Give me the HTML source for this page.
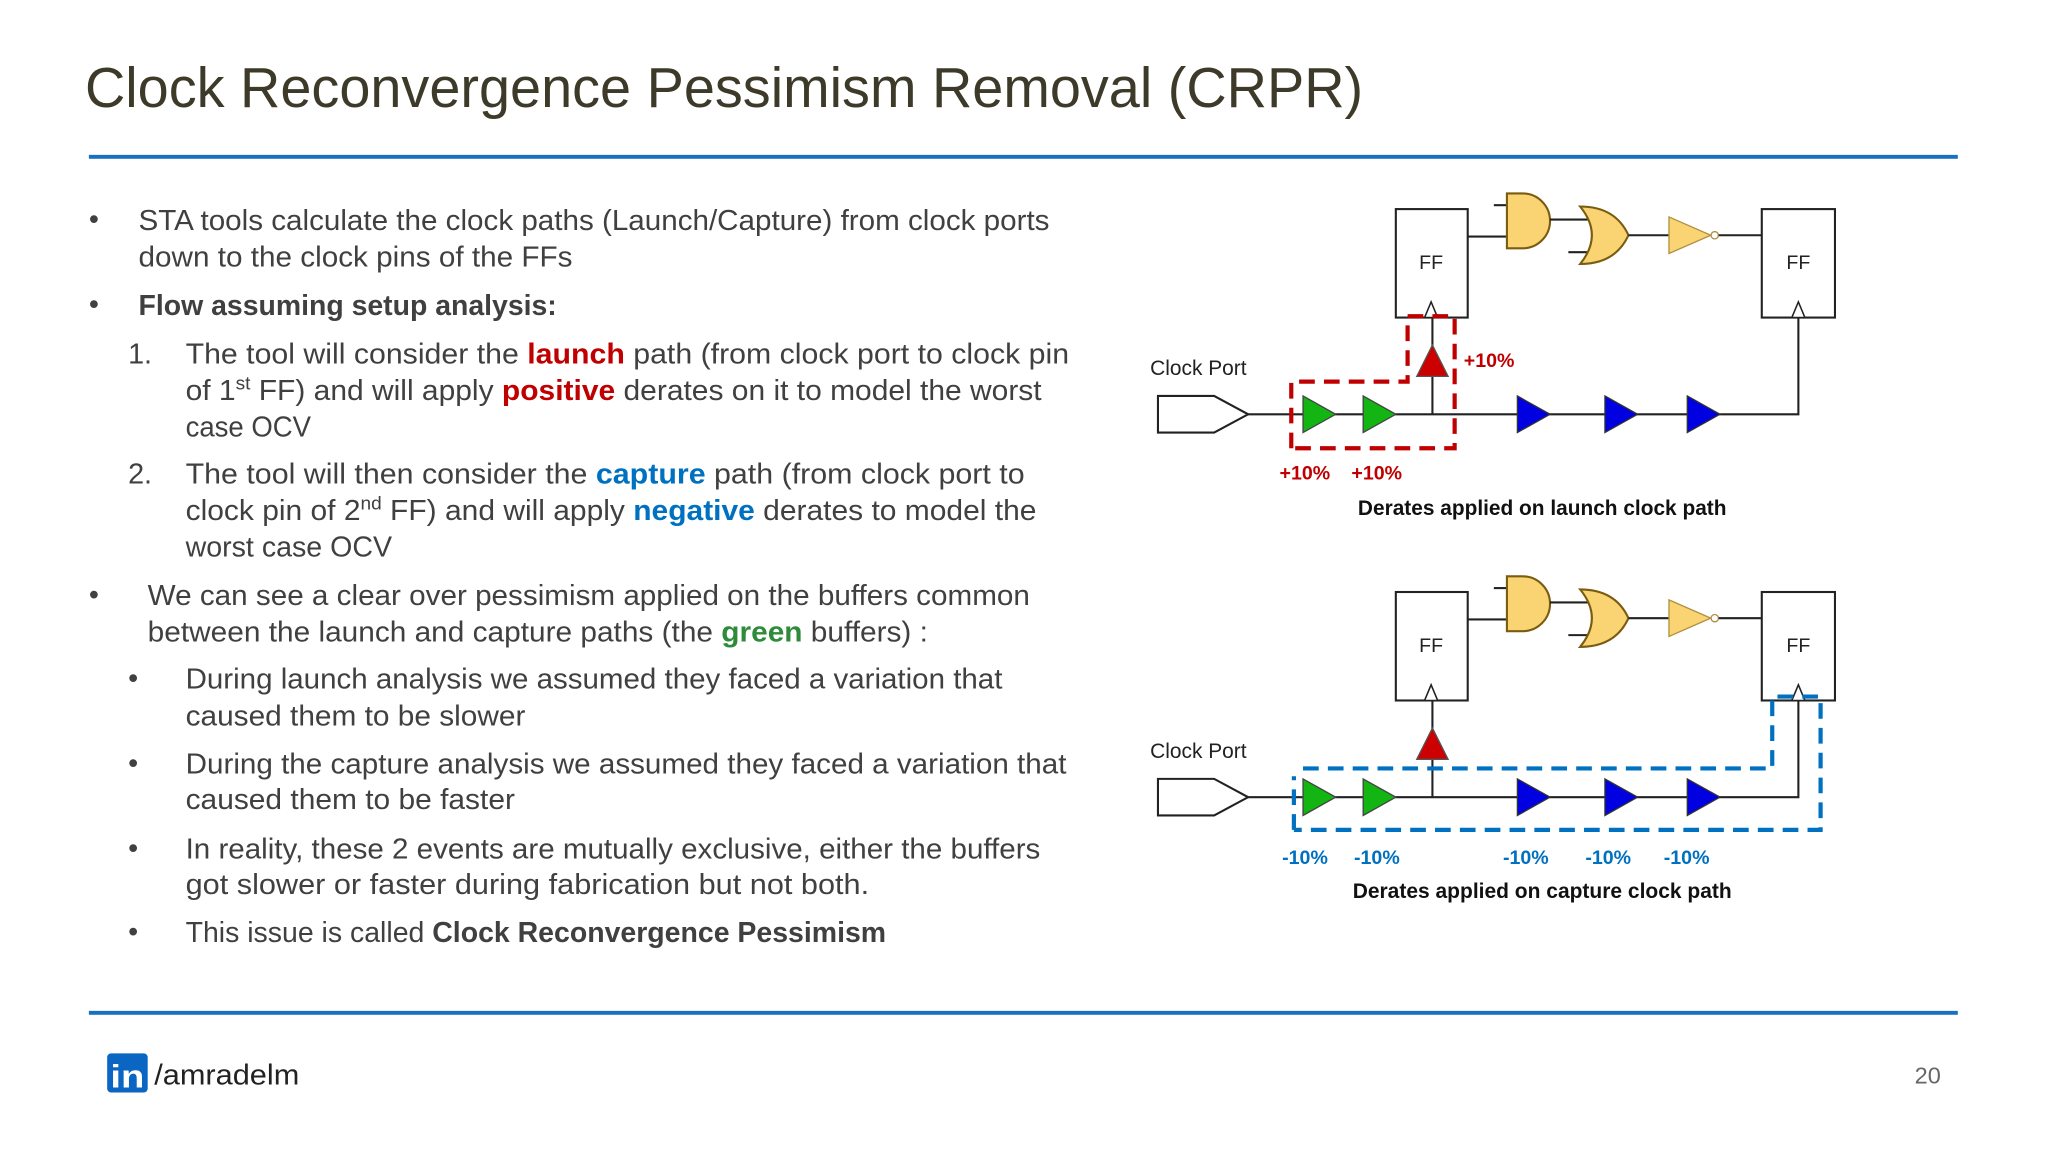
<!DOCTYPE html>
<html><head><meta charset="utf-8"><style>html,body{margin:0;padding:0;background:#fff;}svg{display:block}</style></head>
<body>
<svg width="2048" height="1152" viewBox="0 0 1567 881.5" preserveAspectRatio="none" xmlns="http://www.w3.org/2000/svg" font-family="Liberation Sans, sans-serif">
<rect width="1567" height="882" fill="#fff"/>
<text x="65" y="82" font-size="43" fill="#3d3a2a" textLength="978" lengthAdjust="spacingAndGlyphs">Clock Reconvergence Pessimism Removal (CRPR)</text>
<rect x="68" y="118.5" width="1430" height="3" fill="#1a6fc0"/>
<rect x="68" y="773.5" width="1430" height="3" fill="#1a6fc0"/>

<g font-size="22" fill="#404040">
<text x="68" y="175">•</text>
<text x="106" y="176" textLength="697" lengthAdjust="spacingAndGlyphs">STA tools calculate the clock paths (Launch/Capture) from clock ports</text>
<text x="106" y="204" textLength="332" lengthAdjust="spacingAndGlyphs">down to the clock pins of the FFs</text>
<text x="68" y="240">•</text>
<text x="106" y="241" font-weight="bold" textLength="320" lengthAdjust="spacingAndGlyphs">Flow assuming setup analysis:</text>
<text x="98" y="278">1.</text>
<text x="142" y="278" textLength="676" lengthAdjust="spacingAndGlyphs">The tool will consider the <tspan fill="#c00000" font-weight="bold">launch</tspan> path (from clock port to clock pin</text>
<text x="142" y="306" textLength="655" lengthAdjust="spacingAndGlyphs">of 1<tspan font-size="14" dy="-8">st</tspan><tspan dy="8"> FF) and will apply </tspan><tspan fill="#c00000" font-weight="bold">positive</tspan> derates on it to model the worst</text>
<text x="142" y="334" textLength="96" lengthAdjust="spacingAndGlyphs">case OCV</text>
<text x="98" y="370">2.</text>
<text x="142" y="370" textLength="642" lengthAdjust="spacingAndGlyphs">The tool will then consider the <tspan fill="#0070c0" font-weight="bold">capture</tspan> path (from clock port to</text>
<text x="142" y="398" textLength="651" lengthAdjust="spacingAndGlyphs">clock pin of 2<tspan font-size="14" dy="-8">nd</tspan><tspan dy="8"> FF) and will apply </tspan><tspan fill="#0070c0" font-weight="bold">negative</tspan> derates to model the</text>
<text x="142" y="426" textLength="158" lengthAdjust="spacingAndGlyphs">worst case OCV</text>
<text x="68" y="462">•</text>
<text x="113" y="463" textLength="675" lengthAdjust="spacingAndGlyphs">We can see a clear over pessimism applied on the buffers common</text>
<text x="113" y="491" textLength="597" lengthAdjust="spacingAndGlyphs">between the launch and capture paths (the <tspan fill="#2e8b3a" font-weight="bold">green</tspan> buffers) :</text>
<text x="98" y="526">•</text>
<text x="142" y="527" textLength="625" lengthAdjust="spacingAndGlyphs">During launch analysis we assumed they faced a variation that</text>
<text x="142" y="555" textLength="260" lengthAdjust="spacingAndGlyphs">caused them to be slower</text>
<text x="98" y="591">•</text>
<text x="142" y="592" textLength="674" lengthAdjust="spacingAndGlyphs">During the capture analysis we assumed they faced a variation that</text>
<text x="142" y="619" textLength="252" lengthAdjust="spacingAndGlyphs">caused them to be faster</text>
<text x="98" y="656">•</text>
<text x="142" y="657" textLength="654" lengthAdjust="spacingAndGlyphs">In reality, these 2 events are mutually exclusive, either the buffers</text>
<text x="142" y="684" textLength="523" lengthAdjust="spacingAndGlyphs">got slower or faster during fabrication but not both.</text>
<text x="98" y="720">•</text>
<text x="142" y="721" textLength="536" lengthAdjust="spacingAndGlyphs">This issue is called <tspan font-weight="bold">Clock Reconvergence Pessimism</tspan></text>
</g>

<rect x="82" y="806" width="31" height="30" rx="3" fill="#0a66c2"/>
<text x="84.5" y="832" font-size="25" font-weight="bold" fill="#fff" textLength="26" lengthAdjust="spacingAndGlyphs">in</text>
<text x="118" y="830" font-size="22" fill="#222" textLength="111" lengthAdjust="spacingAndGlyphs">/amradelm</text>
<text x="1465" y="829" font-size="18" fill="#666">20</text>

<defs>
<g id="dia" stroke="#222" stroke-width="1.6">
  <rect x="1068" y="160" width="55" height="83" fill="#fff"/>
  <rect x="1348" y="160" width="56" height="83" fill="#fff"/>
  <polygon points="1090,243 1095,231 1100,243" fill="#fff" stroke-width="1.2"/>
  <polygon points="1371,243 1376,231 1381,243" fill="#fff" stroke-width="1.2"/>
  <text x="1095" y="206" font-size="15" text-anchor="middle" fill="#222" stroke="none">FF</text>
  <text x="1376" y="206" font-size="15" text-anchor="middle" fill="#222" stroke="none">FF</text>
  <line x1="1123" y1="181" x2="1153" y2="181"/>
  <line x1="1143" y1="157" x2="1153" y2="157"/>
  <path d="M1153,148 H1165 A21,21 0 0 1 1165,190 H1153 Z" fill="#fad472" stroke="#7a5c10"/>
  <line x1="1186" y1="168" x2="1216" y2="168"/>
  <line x1="1200" y1="193" x2="1216" y2="193"/>
  <path d="M1209,158 Q1227,180 1209,202 Q1236,202 1246,180 Q1236,158 1209,158 Z" fill="#fad472" stroke="#7a5c10"/>
  <line x1="1246" y1="180" x2="1277" y2="180"/>
  <polygon points="1277,166 1309,180 1277,194" fill="#fad472" stroke="#b09040" stroke-width="1"/>
  <circle cx="1312" cy="180" r="2.8" fill="#fff" stroke="#b09040" stroke-width="1"/>
  <line x1="1315" y1="180" x2="1348" y2="180"/>
  <polygon points="886,303 929,303 955,317 929,331 886,331" fill="#fff"/>
  <polyline points="955,317 1376,317 1376,243" fill="none"/>
  <line x1="1096" y1="317" x2="1096" y2="243"/>
  <polygon points="997,303 1022,317 997,331" fill="#12b512" stroke="#444" stroke-width="1"/>
  <polygon points="1043,303 1068,317 1043,331" fill="#12b512" stroke="#444" stroke-width="1"/>
  <polygon points="1084,288 1096,264 1108,288" fill="#cc0000" stroke="#555" stroke-width="1"/>
  <polygon points="1161,303 1186,317 1161,331" fill="#0000e0" stroke="#333" stroke-width="1"/>
  <polygon points="1228,303 1253,317 1228,331" fill="#0000e0" stroke="#333" stroke-width="1"/>
  <polygon points="1291,303 1316,317 1291,331" fill="#0000e0" stroke="#333" stroke-width="1"/>
  <text x="880" y="287" font-size="16" fill="#222" stroke="none">Clock Port</text>
</g>
</defs>
<use href="#dia"/>
<use href="#dia" transform="translate(0,293)"/>

<path d="M988,343 V292 H1077 V242 H1113 V343 Z" fill="none" stroke="#c00000" stroke-width="3.2" stroke-dasharray="12,7"/>
<g font-size="15" font-weight="bold" fill="#c00000">
<text x="1120" y="281">+10%</text>
<text x="979" y="367">+10%</text>
<text x="1034" y="367">+10%</text>
</g>
<text x="1180" y="394" font-size="16" font-weight="bold" text-anchor="middle" fill="#111" textLength="282" lengthAdjust="spacingAndGlyphs">Derates applied on launch clock path</text>

<path d="M990,635 V594 M997,588 H1356 V533 H1393 V635 H990" fill="none" stroke="#0070c0" stroke-width="3.2" stroke-dasharray="12,7"/>
<g font-size="15" font-weight="bold" fill="#0070c0">
<text x="981" y="661">-10%</text>
<text x="1036" y="661">-10%</text>
<text x="1150" y="661">-10%</text>
<text x="1213" y="661">-10%</text>
<text x="1273" y="661">-10%</text>
</g>
<text x="1180" y="687" font-size="16" font-weight="bold" text-anchor="middle" fill="#111" textLength="290" lengthAdjust="spacingAndGlyphs">Derates applied on capture clock path</text>
</svg>
</body></html>
